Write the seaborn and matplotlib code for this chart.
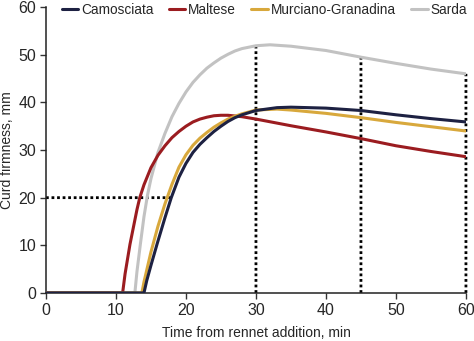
import numpy as np
import pandas as pd
import matplotlib
matplotlib.use("Agg")
import matplotlib.pyplot as plt
import seaborn as sns

# ---- data ----
breeds = ["Camosciata", "Maltese", "Murciano-Granadina", "Sarda"]
colors = ["#1d2142", "#9b1c20", "#d8a83c", "#c2c2c2"]

cam_t = [0, 14.0, 14.4, 15, 15.9, 17, 17.9, 19, 20, 21, 22, 23, 24, 25, 26, 27, 28, 30, 33, 35, 40, 45, 50, 55, 60]
cam_y = [0, 0, 2.6, 5.8, 10.4, 15.8, 20.0, 24.3, 27.2, 29.5, 31.2, 32.6, 33.9, 35.0, 36.0, 36.8, 37.4, 38.3, 38.9, 39.0, 38.8, 38.3, 37.4, 36.6, 35.9]

mal_t = [0, 10.95, 11.3, 12, 13, 13.4, 14, 15, 16, 17, 18, 19, 20, 21, 22, 23, 24, 25, 26, 28, 30, 35, 40, 45, 50, 55, 60]
mal_y = [0, 0, 4.0, 10.2, 17.5, 20.0, 22.7, 26.3, 28.9, 30.9, 32.6, 33.9, 35.0, 35.9, 36.5, 36.9, 37.2, 37.3, 37.3, 37.0, 36.5, 35.1, 33.8, 32.4, 30.9, 29.7, 28.6]

mur_t = [0, 13.7, 14.0, 15, 16, 17, 18, 19, 20, 21, 22, 23, 24, 25, 26, 27, 28, 30, 33, 35, 40, 45, 50, 55, 60]
mur_y = [0, 0, 2.3, 8.6, 14.0, 18.7, 22.8, 26.4, 29.0, 31.0, 32.5, 33.7, 34.8, 35.7, 36.5, 37.1, 37.6, 38.4, 38.6, 38.4, 37.7, 36.8, 35.8, 34.9, 34.0]

sar_t = [0, 12.7, 13.0, 13.5, 14, 14.5, 15, 16, 17, 18, 19, 20, 21, 22, 23, 24, 25, 26, 27, 28, 30, 32, 35, 40, 45, 50, 55, 60]
sar_y = [0, 0, 4.5, 10.4, 16.0, 20.5, 24.0, 29.5, 33.5, 37.0, 39.8, 42.2, 44.2, 45.8, 47.2, 48.3, 49.3, 50.1, 50.8, 51.3, 51.9, 52.1, 51.8, 50.9, 49.5, 48.2, 47.0, 46.0]

mark_times = [30, 45, 60]
threshold = 20
threshold_time = 17.9

x_ticks = [0, 10, 20, 30, 40, 50, 60]
y_ticks = [0, 10, 20, 30, 40, 50, 60]
x_label = "Time from rennet addition, min"
y_label = "Curd firmness, mm"

frames = []
for name, t, y in [("Camosciata", cam_t, cam_y), ("Maltese", mal_t, mal_y),
                   ("Murciano-Granadina", mur_t, mur_y), ("Sarda", sar_t, sar_y)]:
    frames.append(pd.DataFrame({"time": t, "firmness": y, "breed": name}))
df = pd.concat(frames, ignore_index=True)

sns.set_theme(style="ticks")
plt.rcParams["font.family"] = ["Liberation Sans", "DejaVu Sans"]
fs_tick, fs_lab, fs_leg = 11.5, 10, 9.8

fig = plt.figure(figsize=(4.74, 3.41), dpi=100)
ax = fig.add_axes([0.097, 0.141, 0.886, 0.838])

# dotted reference lines
dot = (0, (1, 1.0))
sar_marks = np.interp(mark_times, sar_t, sar_y)
ax.vlines(mark_times, 0, sar_marks, colors="black", linestyles=[dot], linewidth=2.0,
          zorder=1, clip_on=False, snap=False)
ax.hlines(threshold, 0, threshold_time, colors="black", linestyles=[dot], linewidth=2.0,
          zorder=1, clip_on=False, snap=False)

order_draw = ["Sarda", "Maltese", "Murciano-Granadina", "Camosciata"]
pal = dict(zip(breeds, colors))
for b in order_draw:
    sub = df[df["breed"] == b]
    sns.lineplot(data=sub, x="time", y="firmness", color=pal[b], linewidth=2.2,
                 ax=ax, label=b, sort=False, estimator=None, zorder=3)

ax.set_xlim(0, 60)
ax.set_ylim(0, 60)
ax.set_xticks(x_ticks)
ax.set_yticks(y_ticks)
ax.tick_params(axis="both", labelsize=fs_tick, length=4, width=1, color="#333333", pad=3)
ax.set_xlabel(x_label, fontsize=fs_lab, labelpad=6)
ax.set_ylabel(y_label, fontsize=fs_lab, labelpad=3)
for s in ["top", "right"]:
    ax.spines[s].set_visible(False)
for s in ["left", "bottom"]:
    ax.spines[s].set_linewidth(1.1)
    ax.spines[s].set_color("#222222")

handles, labels = ax.get_legend_handles_labels()
hmap = dict(zip(labels, handles))
ax.legend([hmap[b] for b in breeds], breeds, ncol=4, loc="upper center",
          bbox_to_anchor=(0.52, 1.035), frameon=False, fontsize=fs_leg,
          handlelength=1.2, handletextpad=0.2, columnspacing=1.15, borderaxespad=0)

fig.savefig("out.png", dpi=100)
